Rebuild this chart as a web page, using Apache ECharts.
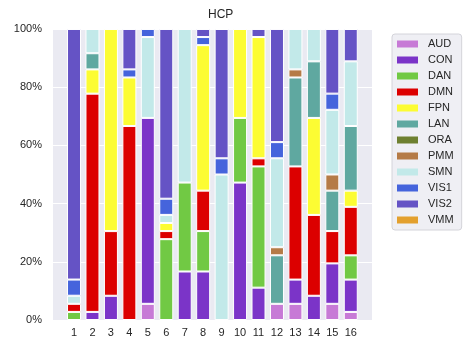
<!DOCTYPE html>
<html>
<head>
<meta charset="utf-8">
<script src="https://cdn.jsdelivr.net/npm/echarts@6/dist/echarts.min.js"></script>
<style>html,body{margin:0;padding:0;background:#fff}#c{width:474px;height:355px}</style>
</head>
<body>
<div id="c"></div>
<script>
const categories = ['1','2','3','4','5','6','7','8','9','10','11','12','13','14','15','16'];
const seriesNames = ['AUD','CON','DAN','DMN','FPN','LAN','ORA','PMM','SMN','VIS1','VIS2','VMM'];
const AUD  = [0,0,0,0,5.56,0,0,0,0,0,0,5.56,5.56,0,5.56,2.78];
const CON  = [0,2.78,8.33,0,63.89,0,16.67,16.67,0,47.22,11.11,0,8.33,8.33,13.89,11.11];
const DAN  = [2.78,0,0,0,0,27.78,30.56,13.89,0,22.22,41.67,0,0,0,0,8.33];
const DMN  = [2.78,75,22.22,66.67,0,2.78,0,13.89,0,0,2.78,0,38.89,27.78,11.11,16.67];
const FPN  = [0,8.33,69.44,16.67,0,2.78,0,50,0,30.56,41.67,0,0,33.33,0,5.56];
const LAN  = [0,5.56,0,0,0,0,0,0,0,0,0,16.67,30.56,19.44,13.89,22.22];
const ORA  = [0,0,0,0,0,0,0,0,0,0,0,0,0,0,0,0];
const PMM  = [0,0,0,0,0,0,0,0,0,0,0,2.78,2.78,0,5.56,0];
const SMN  = [2.78,8.33,0,0,27.78,2.78,52.78,0,50,0,0,30.56,13.89,11.11,22.22,22.22];
const VIS1 = [5.56,0,0,2.78,2.78,5.56,0,2.78,5.56,0,0,5.56,0,0,5.56,0];
const VIS2 = [86.11,0,0,13.89,0,58.33,0,2.78,44.44,0,2.78,38.89,0,0,22.22,11.11];
const VMM  = [0,0,0,0,0,0,0,0,0,0,0,0,0,0,0,0];
const yTicks = [0,20,40,60,80,100];

const values = [AUD,CON,DAN,DMN,FPN,LAN,ORA,PMM,SMN,VIS1,VIS2,VMM];
const colors = ['#c77ad6','#7b34c8','#71c944','#dc0000','#fcfc33','#5fa8a0','#6e8030','#b57b47','#c2e9e9','#4564dc','#6553c5','#e3a02e'];
const FONT = 'Liberation Sans, Arial, sans-serif';

const chart = echarts.init(document.getElementById('c'), null, {renderer:'canvas'});
const series = seriesNames.map((n, si) => ({
  name: n,
  type: 'bar',
  stack: 'all',
  xAxisIndex: 1, yAxisIndex: 1,
  barWidth: 14,
  itemStyle: {color: colors[si], borderColor: '#ffffff', borderWidth: 1},
  emphasis: {disabled: true},
  data: values[si].map(v => v === 0 ? {value: 0, itemStyle: {borderWidth: 0, opacity: 0}} : v)
}));

chart.setOption({
  animation: false,
  backgroundColor: '#ffffff',
  textStyle: {fontFamily: FONT},
  title: {
    text: 'HCP', left: 203, top: 4,
    textStyle: {fontSize: 12, fontWeight: 'normal', color: '#262626', fontFamily: FONT}
  },
  legend: {
    data: seriesNames,
    orient: 'vertical',
    left: 392, top: 34,
    padding: [4, 8, 4, 5],
    itemWidth: 21, itemHeight: 7,
    itemGap: 4,
    icon: 'rect',
    backgroundColor: '#efeff4',
    borderColor: '#d4d4da', borderWidth: 1, borderRadius: 3,
    textStyle: {fontSize: 11, color: '#262626', lineHeight: 12, padding: [0,0,0,5], fontFamily: FONT},
    itemStyle: {borderWidth: 0}
  },
  grid: [
    {left: 53, right: 102, top: 29, bottom: 35, show: true, backgroundColor: '#eaeaf2', borderWidth: 0},
    {left: 64.8, right: 114, top: 29, bottom: 35}
  ],
  xAxis: [
    {gridIndex: 0, type: 'value', min: 0, max: 1, show: false},
    {
      gridIndex: 1, type: 'category', data: categories,
      axisLine: {show: false}, axisTick: {show: false}, splitLine: {show: false},
      axisLabel: {fontSize: 11, color: '#262626', margin: 7, interval: 0}
    }
  ],
  yAxis: [
    {
      gridIndex: 0, type: 'value', min: 0, max: 100, interval: 20,
      axisLine: {show: false}, axisTick: {show: false},
      splitLine: {lineStyle: {color: '#ffffff', width: 1}},
      axisLabel: {formatter: v => yTicks.includes(v) ? v + '%' : '', fontSize: 11, color: '#262626', margin: 11}
    },
    {gridIndex: 1, type: 'value', min: 0, max: 100, show: false}
  ],
  series: series
});
</script>
</body>
</html>
